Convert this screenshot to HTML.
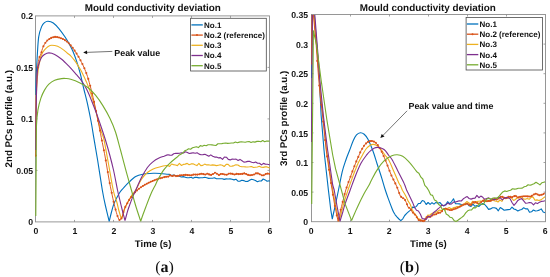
<!DOCTYPE html>
<html lang="en"><head><meta charset="utf-8"><title>Mould conductivity deviation</title>
<style>html,body{margin:0;padding:0;background:#fff}svg{display:block}</style></head>
<body>
<svg width="550" height="277" viewBox="0 0 550 277" font-family="'Liberation Sans', sans-serif" font-weight="bold" fill="#111" text-rendering="geometricPrecision">
<rect width="550" height="277" fill="#fff"/>
<rect x="35.5" y="15.9" width="234.0" height="206.0" fill="#fff" stroke="#8c8c8c" stroke-width="0.9"/><path d="M74.5 221.9v-2.0M74.5 15.9v2.0M113.5 221.9v-2.0M113.5 15.9v2.0M152.5 221.9v-2.0M152.5 15.9v2.0M191.5 221.9v-2.0M191.5 15.9v2.0M230.5 221.9v-2.0M230.5 15.9v2.0M35.5 170.4h2.0M269.5 170.4h-2.0M35.5 118.9h2.0M269.5 118.9h-2.0M35.5 67.4h2.0M269.5 67.4h-2.0" stroke="#8c8c8c" stroke-width="0.8" fill="none"/>
<clipPath id="cl"><rect x="35.0" y="15.9" width="235.0" height="206.5"/></clipPath>
<g clip-path="url(#cl)">
<path d="M35.8 95.0L36.2 75.0M36.2 75.0C36.4 71.7 36.9 61.4 37.3 55.0C37.7 48.6 38.0 41.5 38.7 36.8C39.4 32.1 40.6 29.0 41.6 26.6C42.6 24.2 43.4 23.5 44.5 22.6C45.6 21.7 46.5 21.1 48.0 21.2C49.5 21.3 51.4 21.7 53.3 23.0C55.1 24.3 57.2 26.5 59.1 28.8C61.0 31.1 63.2 34.2 64.9 36.8C66.6 39.3 68.0 41.6 69.3 44.1C70.6 46.6 71.8 48.7 73.0 51.5C74.2 54.3 75.3 57.3 76.5 60.9C77.7 64.5 79.0 68.8 80.2 73.3C81.4 77.8 82.4 82.9 83.6 88.0C84.8 93.1 86.3 98.4 87.5 103.9C88.7 109.4 89.9 115.2 91.0 121.0C92.1 126.8 92.9 132.4 94.0 138.9C95.1 145.4 96.2 151.5 97.6 160.0C99.0 168.5 101.0 182.3 102.3 190.0C103.6 197.7 104.3 200.8 105.5 206.0C106.7 211.2 108.6 218.8 109.2 221.4M109.2 221.4C109.6 219.8 110.7 214.9 111.5 212.0C112.3 209.1 112.7 207.0 113.9 203.9C115.2 200.8 117.4 196.3 119.0 193.7C120.6 191.0 121.9 189.8 123.5 188.0C125.1 186.2 126.5 184.6 128.5 182.7C130.5 180.8 133.3 178.0 135.7 176.6C138.1 175.2 140.1 174.8 143.0 174.2C145.9 173.6 150.3 173.4 153.2 173.3C156.1 173.2 158.1 173.3 160.5 173.5C162.9 173.7 166.5 174.1 167.7 174.2M167.7 174.2L169.6 174.4L171.6 175.6L173.5 175.0L175.5 175.5L177.4 175.7L179.4 176.3L181.3 177.0L183.3 176.6L185.2 177.2L187.2 177.8L189.1 177.7L191.1 177.3L193.0 178.3L195.0 177.2L196.9 177.4L198.9 177.9L200.8 177.7L202.8 177.8L204.7 177.3L206.7 177.8L208.6 178.4L210.6 178.3L212.5 178.2L214.5 177.7L216.4 178.8L218.4 178.7L220.3 178.7L222.3 178.7L224.2 179.4L226.2 178.9L228.1 179.0L230.1 178.9L232.0 179.3L234.0 179.9L235.9 179.2L237.9 181.1L239.8 181.3L241.8 180.3L243.7 180.6L245.7 181.5L247.6 181.4L249.6 180.3L251.5 179.3L253.5 179.8L255.4 180.5L257.4 181.7L259.3 181.0L261.3 181.0L263.2 179.0L265.2 179.9L267.1 181.3L269.1 180.7L269.6 181.4" fill="none" stroke="#0072BD" stroke-width="1.12" stroke-linejoin="round"/>
<path d="M35.7 140.0L36.1 105.0M36.1 105.0C36.2 101.7 36.4 90.8 36.8 85.0C37.1 79.2 37.6 74.5 38.2 70.0C38.8 65.5 39.8 60.9 40.5 58.0C41.2 55.1 41.9 54.0 42.6 52.6C43.3 51.2 43.6 50.9 44.5 49.9C45.4 48.9 47.0 47.3 48.2 46.5C49.4 45.7 50.2 45.2 51.8 45.2C53.4 45.2 55.6 45.5 57.6 46.3C59.6 47.1 61.9 48.7 63.5 49.9C65.2 51.1 66.3 52.3 67.5 53.3C68.7 54.3 69.5 54.6 70.7 55.8C71.9 57.0 73.3 58.8 74.5 60.4C75.7 62.0 76.9 63.9 78.0 65.6C79.1 67.3 80.0 68.8 81.0 70.6C82.0 72.4 82.8 74.2 83.8 76.2C84.8 78.2 85.7 80.3 86.7 82.6C87.7 84.9 88.6 87.2 89.6 90.0C90.6 92.8 91.8 96.5 92.7 99.5C93.6 102.5 94.3 104.9 95.2 108.3C96.1 111.7 97.0 116.2 98.0 120.0C99.0 123.8 100.0 127.8 101.0 131.0C102.0 134.2 102.7 134.1 103.8 138.9C104.9 143.7 106.2 151.5 107.8 160.0C109.4 168.5 111.7 183.0 113.2 190.0C114.7 197.0 115.8 198.5 116.8 202.0C117.8 205.5 118.2 208.2 119.0 211.0C119.8 213.8 121.0 217.7 121.4 219.0M121.4 219.0C121.7 218.2 122.3 216.5 123.0 214.5C123.7 212.5 124.1 209.9 125.5 206.8C126.9 203.7 129.7 198.7 131.4 195.9C133.1 193.1 134.0 192.8 135.7 190.0C137.4 187.2 139.6 182.0 141.5 179.1C143.4 176.2 145.5 174.2 147.4 172.5C149.3 170.8 151.0 169.9 153.2 168.9C155.4 167.9 158.1 167.3 160.5 166.7C162.9 166.1 166.5 165.6 167.7 165.4M167.7 165.4L169.6 166.4L171.6 164.0L173.5 164.6L175.5 165.0L177.4 165.6L179.4 163.4L181.3 165.4L183.3 164.4L185.2 164.1L187.2 163.4L189.1 164.7L191.1 163.9L193.0 163.8L195.0 164.8L196.9 165.6L198.9 163.4L200.8 165.6L202.8 165.4L204.7 164.1L206.7 164.9L208.6 164.8L210.6 165.2L212.5 164.9L214.5 165.1L216.4 165.6L218.4 165.2L220.3 164.8L222.3 165.2L224.2 166.5L226.2 164.4L228.1 164.3L230.1 166.3L232.0 166.1L234.0 165.6L235.9 164.8L237.9 165.0L239.8 166.3L241.8 166.8L243.7 166.7L245.7 166.9L247.6 167.0L249.6 166.8L251.5 166.5L253.5 167.5L255.4 167.2L257.4 167.0L259.3 166.2L261.3 167.3L263.2 167.4L265.2 166.9L267.1 166.9L269.1 167.7L269.6 168.0" fill="none" stroke="#EDB120" stroke-width="1.12" stroke-linejoin="round"/>
<path d="M35.7 155.6L36.1 110.0M36.1 110.0C36.2 105.8 36.4 92.2 36.6 85.0C36.9 77.8 37.2 71.5 37.6 67.0C38.0 62.5 38.7 60.2 39.2 58.0C39.8 55.8 40.2 55.8 40.9 54.0C41.5 52.2 42.2 49.0 43.1 47.0C44.0 45.0 44.8 43.4 46.0 41.9C47.2 40.4 48.9 39.1 50.4 38.3C51.9 37.5 53.5 36.9 55.3 36.9C57.1 36.9 59.4 37.6 61.3 38.3C63.1 39.0 64.7 39.9 66.4 41.2C68.1 42.5 69.8 44.2 71.5 46.3C73.2 48.3 75.2 51.5 76.5 53.5C77.8 55.5 78.3 56.2 79.5 58.5C80.7 60.8 82.5 64.0 83.8 67.0C85.1 70.0 86.3 72.8 87.5 76.5C88.7 80.2 89.8 84.4 91.1 89.3C92.3 94.2 93.8 100.4 95.0 106.0C96.2 111.6 97.4 117.5 98.4 122.8C99.5 128.1 100.1 131.4 101.3 137.5C102.5 143.6 104.3 152.1 105.6 159.3C106.9 166.6 107.9 173.7 109.3 181.0C110.7 188.3 112.6 197.4 113.9 203.0C115.2 208.6 116.1 211.6 117.0 214.5C117.9 217.4 118.8 219.2 119.2 220.2M119.2 220.2C119.7 219.8 121.1 219.4 121.9 217.7C122.7 215.9 123.0 212.5 124.1 209.7C125.2 206.9 126.8 203.8 128.5 201.0C130.2 198.2 132.4 195.2 134.3 193.0C136.2 190.8 138.3 189.3 140.1 187.9C141.9 186.5 143.5 185.6 145.2 184.6C146.9 183.6 148.2 182.9 150.3 182.0C152.4 181.1 155.1 179.9 157.5 179.1C159.9 178.3 163.6 177.3 164.8 177.0M164.8 177.0L166.8 176.8L168.7 176.5L170.6 175.0L172.6 176.3L174.5 175.3L176.5 176.4L178.4 175.8L180.4 175.3L182.3 175.3L184.3 174.9L186.2 174.9L188.2 175.1L190.1 175.3L192.1 175.2L194.0 174.4L196.0 174.6L197.9 174.6L199.9 174.0L201.8 173.8L203.8 174.2L205.7 174.6L207.7 173.4L209.6 174.8L211.6 174.9L213.5 173.7L215.5 172.5L217.4 174.1L219.4 175.2L221.3 173.7L223.3 174.1L225.2 174.6L227.2 174.7L229.1 173.4L231.1 173.7L233.0 174.0L235.0 174.7L236.9 173.6L238.9 174.3L240.8 173.9L242.8 173.8L244.7 173.2L246.7 174.4L248.6 175.1L250.6 175.2L252.5 175.0L254.5 174.3L256.4 173.1L258.4 173.5L260.3 174.5L262.3 175.6L264.2 175.1L266.2 173.7L268.1 173.6L269.6 174.0" fill="none" stroke="#D95319" stroke-width="0.95" stroke-linejoin="round"/>
<path d="M35.7 155.6h0M37.6 67.6h0M39.5 57.0h0M41.5 52.2h0M43.4 46.3h0M45.4 42.7h0M47.3 40.5h0M49.3 39.0h0M51.2 37.9h0M53.2 37.2h0M55.1 36.9h0M57.1 37.1h0M59.0 37.5h0M61.0 38.2h0M62.9 39.0h0M64.9 40.1h0M66.8 41.5h0M68.8 43.3h0M70.7 45.4h0M72.7 47.8h0M74.6 50.6h0M76.6 53.6h0M78.5 56.7h0M80.5 60.3h0M82.4 64.0h0M84.4 68.3h0M86.3 73.1h0M88.3 78.9h0M90.2 85.8h0M92.2 93.6h0M94.1 101.9h0M96.1 111.0h0M98.0 120.8h0M100.0 130.6h0M101.9 140.5h0M103.9 150.2h0M105.8 160.4h0M107.8 172.1h0M109.7 183.1h0M111.7 192.7h0M113.6 201.7h0M115.6 209.6h0M117.5 216.0h0M119.5 220.0h0M121.4 218.5h0M123.4 212.1h0M125.3 206.9h0M127.3 203.2h0M129.2 199.9h0M131.2 197.0h0M133.1 194.4h0M135.1 192.2h0M137.0 190.4h0M139.0 188.8h0M140.9 187.3h0M142.9 186.0h0M144.8 184.8h0M146.8 183.7h0M148.7 182.7h0M150.7 181.8h0M152.6 181.0h0M154.5 180.2h0M156.5 179.5h0M158.4 178.8h0M160.4 178.2h0M162.3 177.7h0M164.3 177.1h0M166.2 176.8h0M168.2 176.6h0M170.1 175.4h0M172.1 176.0h0M174.0 175.6h0M176.0 176.1h0M177.9 175.9h0M179.9 175.4h0M181.8 175.3h0M183.8 175.0h0M185.7 174.9h0M187.7 175.1h0M189.6 175.2h0M191.6 175.2h0M193.5 174.6h0M195.5 174.6h0M197.4 174.6h0M199.4 174.2h0M201.3 173.8h0M203.3 174.1h0M205.2 174.5h0M207.2 173.7h0M209.1 174.4h0M211.1 174.9h0M213.0 174.0h0M215.0 172.8h0M216.9 173.7h0M218.9 174.9h0M220.8 174.1h0M222.8 174.0h0M224.7 174.5h0M226.7 174.7h0M228.6 173.8h0M230.6 173.6h0M232.5 173.9h0M234.5 174.5h0M236.4 173.9h0M238.4 174.1h0M240.3 174.0h0M242.3 173.9h0M244.2 173.4h0M246.2 174.1h0M248.1 174.9h0M250.1 175.2h0M252.0 175.0h0M254.0 174.5h0M255.9 173.4h0M257.9 173.4h0M259.8 174.3h0M261.8 175.3h0M263.7 175.3h0M265.7 174.1h0M267.6 173.6h0M269.6 174.0h0" fill="none" stroke="#D95319" stroke-width="2.1" stroke-linecap="round"/>
<path d="M35.7 150.0L36.1 110.0M36.1 110.0C36.2 106.7 36.4 96.4 36.6 90.0C36.8 83.6 36.9 76.0 37.3 71.8C37.6 67.5 38.0 66.9 38.7 64.5C39.4 62.1 40.6 59.0 41.6 57.3C42.6 55.6 43.3 55.1 44.5 54.4C45.7 53.7 47.2 52.9 48.9 52.9C50.6 52.9 52.5 53.3 54.7 54.4C56.9 55.5 59.6 57.5 62.0 59.5C64.4 61.5 66.9 64.2 69.3 66.7C71.7 69.2 74.3 72.2 76.5 74.7C78.7 77.2 80.7 79.5 82.4 82.0C84.2 84.5 85.5 87.1 87.0 90.0C88.5 92.9 89.6 95.7 91.1 99.5C92.6 103.3 94.6 108.3 96.2 112.6C97.8 116.8 98.9 120.3 100.5 125.0C102.1 129.7 104.0 135.3 105.6 140.5C107.2 145.7 108.7 151.1 110.0 156.0C111.3 160.9 112.2 164.3 113.5 170.0C114.8 175.7 116.5 185.1 117.5 190.0C118.5 194.9 118.9 196.0 119.7 199.5C120.5 203.0 121.6 207.5 122.5 211.0C123.4 214.5 124.6 219.0 125.0 220.6M125.0 220.6C125.3 219.5 126.2 216.1 126.8 214.0C127.4 211.9 127.5 211.2 128.5 208.3C129.5 205.4 131.5 199.9 132.8 196.6C134.1 193.3 135.1 191.7 136.5 188.5C137.9 185.3 139.7 181.1 141.5 177.6C143.3 174.1 145.5 170.2 147.4 167.5C149.3 164.8 151.3 163.2 153.2 161.6C155.1 160.0 157.2 158.9 159.0 158.0C160.8 157.1 163.2 156.5 164.0 156.2M164.0 156.2L165.9 155.4L167.9 154.7L169.8 155.1L171.8 155.3L173.7 153.7L175.7 153.3L177.6 153.4L179.6 153.2L181.5 152.8L183.5 153.0L185.4 151.8L187.4 152.5L189.3 153.5L191.3 153.1L193.2 152.7L195.2 153.3L197.1 152.8L199.1 154.1L201.0 154.7L203.0 154.6L204.9 154.3L206.9 155.2L208.8 156.3L210.8 154.9L212.7 156.2L214.7 157.1L216.6 157.1L218.6 157.9L220.5 157.6L222.5 159.4L224.4 157.0L226.4 157.2L228.3 159.4L230.3 159.9L232.2 159.0L234.2 159.2L236.1 159.1L238.1 160.5L240.0 159.4L242.0 160.7L243.9 162.1L245.9 161.9L247.8 161.4L249.8 161.4L251.7 162.3L253.7 162.8L255.6 162.0L257.6 163.3L259.5 163.2L261.5 164.9L263.4 163.4L265.4 164.1L267.3 164.3L269.6 164.8" fill="none" stroke="#7E2F8E" stroke-width="1.12" stroke-linejoin="round"/>
<path d="M35.8 216.0L36.2 160.0M36.2 160.0C36.2 154.2 36.2 133.4 36.5 125.0C36.8 116.6 37.3 114.2 38.0 109.7C38.7 105.2 39.8 101.4 40.9 98.1C42.0 94.8 43.2 92.4 44.5 90.1C45.8 87.8 47.2 85.8 48.9 84.2C50.6 82.6 52.6 81.2 54.7 80.3C56.8 79.4 59.6 78.9 61.5 78.6C63.4 78.3 64.5 78.4 66.0 78.5C67.5 78.6 68.5 78.6 70.7 79.3C73.0 80.0 76.6 81.3 79.5 82.7C82.4 84.1 85.5 85.7 88.2 87.8C90.9 89.9 93.1 92.3 95.5 95.2C97.9 98.1 100.3 101.5 102.7 105.4C105.1 109.3 107.9 114.1 110.0 118.5C112.1 122.9 113.8 126.8 115.5 132.0C117.2 137.2 118.8 143.8 120.5 150.0C122.2 156.2 123.7 162.2 125.5 168.9C127.3 175.6 129.9 184.7 131.4 190.0C132.9 195.3 133.3 197.4 134.3 201.0C135.3 204.6 136.4 208.1 137.5 211.5C138.6 214.9 140.2 219.6 140.7 221.2M140.7 221.2C141.1 220.1 142.1 216.9 143.0 214.5C143.9 212.1 144.6 210.3 145.9 206.8C147.2 203.3 149.4 197.3 151.0 193.7C152.6 190.1 154.3 187.2 155.4 185.0C156.5 182.8 156.2 182.9 157.5 180.5C158.8 178.1 161.5 173.2 163.4 170.4C165.3 167.6 167.3 165.8 169.2 163.8C171.1 161.9 174.0 159.5 175.0 158.7M175.0 158.7L176.9 157.3L178.9 155.3L180.8 154.3L182.8 153.0L184.7 150.8L186.7 149.9L188.6 148.8L190.6 149.3L192.5 147.8L194.5 147.3L196.4 146.8L198.4 147.6L200.3 145.6L202.3 146.2L204.2 145.3L206.2 145.7L208.1 144.7L210.1 144.7L212.0 144.9L214.0 145.2L215.9 145.5L217.9 143.8L219.8 143.8L221.8 143.6L223.7 143.2L225.7 143.0L227.6 143.4L229.6 143.2L231.5 143.0L233.5 143.0L235.4 142.0L237.4 142.7L239.3 142.1L241.3 141.8L243.2 142.0L245.2 142.2L247.1 141.7L249.1 141.5L251.0 142.5L253.0 141.7L254.9 142.1L256.9 141.4L258.8 141.2L260.8 141.7L262.7 140.5L264.7 141.7L266.6 141.0L268.6 141.1L269.6 141.3" fill="none" stroke="#77AC30" stroke-width="1.12" stroke-linejoin="round"/>
</g>
<rect x="311.5" y="14.5" width="234.0" height="207.2" fill="#fff" stroke="#8c8c8c" stroke-width="0.9"/><path d="M350.5 221.7v-2.0M350.5 14.5v2.0M389.5 221.7v-2.0M389.5 14.5v2.0M428.5 221.7v-2.0M428.5 14.5v2.0M467.5 221.7v-2.0M467.5 14.5v2.0M506.5 221.7v-2.0M506.5 14.5v2.0M311.5 192.1h2.0M545.5 192.1h-2.0M311.5 162.5h2.0M545.5 162.5h-2.0M311.5 132.9h2.0M545.5 132.9h-2.0M311.5 103.3h2.0M545.5 103.3h-2.0M311.5 73.7h2.0M545.5 73.7h-2.0M311.5 44.1h2.0M545.5 44.1h-2.0" stroke="#8c8c8c" stroke-width="0.8" fill="none"/>
<clipPath id="cr"><rect x="311.0" y="14.5" width="235.0" height="207.7"/></clipPath>
<g clip-path="url(#cr)">
<path d="M311.6 78.0L312.2 14.9M314.3 14.9L317.2 50.0L319.4 80.0L321.1 115.0L324.0 150.0L324.7 157.0L328.4 190.0L330.8 210.0L332.3 219.2M332.3 219.2C332.6 218.0 333.2 214.6 333.8 212.0C334.4 209.4 334.8 207.6 335.6 203.9C336.4 200.2 337.4 195.3 338.5 190.0C339.6 184.7 341.0 176.8 342.2 171.8C343.4 166.8 344.6 163.8 345.8 160.2C347.0 156.6 348.2 153.8 349.5 150.5C350.8 147.2 352.1 143.1 353.3 140.5C354.5 137.9 355.3 136.2 356.5 134.9C357.7 133.6 359.1 132.8 360.4 132.7C361.7 132.6 362.9 133.2 364.2 134.3C365.5 135.4 366.8 137.1 368.0 139.2C369.2 141.3 370.3 144.3 371.3 146.8C372.3 149.3 373.0 151.1 374.0 154.0C375.0 156.9 376.0 160.6 377.3 164.5C378.6 168.4 380.3 173.3 381.6 177.6C382.9 181.8 384.2 186.6 385.3 190.0C386.4 193.4 386.9 194.8 388.1 198.1C389.3 201.4 391.4 206.9 392.5 209.7C393.6 212.4 394.6 213.8 395.0 214.6M395.0 214.6L396.9 216.9L398.9 219.0L400.8 220.7L402.8 218.8L404.7 215.5L406.7 213.3L408.6 211.6L410.6 210.1L412.5 207.1L414.5 207.6L416.4 206.4L418.4 203.5L420.3 203.4L422.3 200.5L424.2 201.3L426.2 204.5L428.1 202.5L430.1 204.4L432.0 202.7L434.0 204.1L435.9 202.4L437.9 203.3L439.8 202.5L441.8 204.6L443.7 206.0L445.7 204.5L447.6 201.7L449.6 203.6L451.5 201.8L453.5 198.8L455.4 203.6L457.4 203.8L459.3 203.9L461.3 204.5L463.2 204.7L465.2 204.2L467.1 203.5L469.1 205.8L471.0 206.4L473.0 204.2L474.9 206.3L476.9 205.6L478.8 206.5L480.8 204.7L482.7 203.5L484.7 204.5L486.6 206.7L488.6 209.4L490.5 208.9L492.5 207.7L494.4 207.8L496.4 208.4L498.3 210.8L500.3 207.5L502.2 208.7L504.2 210.2L506.1 209.9L508.1 209.6L510.0 209.5L512.0 207.1L513.9 209.0L515.9 209.6L517.8 211.0L519.8 210.0L521.7 209.5L523.7 207.7L525.6 208.9L527.6 208.7L529.5 212.2L531.5 211.8L533.4 210.0L535.4 211.0L537.3 210.8L539.3 210.1L541.2 208.9L543.2 212.0L545.0 212.7" fill="none" stroke="#0072BD" stroke-width="1.12" stroke-linejoin="round"/>
<path d="M311.6 55.0L312.4 14.9M313.9 14.9L316.7 45.0L318.9 72.6L320.8 96.0L322.9 115.0L326.6 150.0L327.4 155.0L331.9 185.0L335.3 204.0L339.0 221.4M339.0 221.4C339.4 220.0 340.4 215.9 341.2 213.0C342.0 210.1 342.5 207.7 343.6 203.9C344.7 200.1 346.5 194.4 348.0 190.0C349.5 185.6 350.7 182.1 352.4 177.6C354.1 173.1 356.5 166.9 358.2 163.1C359.9 159.3 361.1 157.4 362.5 155.0C363.9 152.6 365.1 150.1 366.4 148.5C367.7 146.9 369.0 145.9 370.2 145.2C371.4 144.5 372.3 144.3 373.5 144.4C374.7 144.5 376.0 144.8 377.3 145.7C378.6 146.5 379.8 147.9 381.1 149.5C382.4 151.1 383.6 153.2 384.9 155.0C386.2 156.8 387.4 157.4 388.9 160.2C390.4 163.0 392.3 167.9 394.0 171.8C395.7 175.7 398.0 181.2 399.1 183.5C400.2 185.8 400.3 185.2 400.5 185.5M400.5 185.5L402.4 190.3L404.4 193.5L406.3 197.1L408.3 201.4L410.2 204.2L412.2 209.7L414.1 213.2L416.1 215.4L418.0 218.6L420.0 219.2L421.9 220.4L423.9 220.6L425.8 218.7L427.8 215.1L429.7 215.2L431.7 213.5L433.6 212.7L435.6 212.6L437.5 211.5L439.5 210.0L441.4 210.8L443.4 209.1L445.3 210.1L447.3 208.5L449.2 207.5L451.2 209.0L453.1 207.9L455.1 207.4L457.0 206.6L459.0 206.9L460.9 205.2L462.9 205.4L464.8 203.5L466.8 201.6L468.7 202.7L470.7 204.1L472.6 201.3L474.6 203.4L476.5 201.6L478.5 201.3L480.4 201.0L482.4 200.7L484.3 199.5L486.3 200.9L488.2 201.1L490.2 201.1L492.1 199.2L494.1 200.7L496.0 201.1L498.0 202.0L499.9 200.0L501.9 201.4L503.8 198.0L505.8 198.8L507.7 198.3L509.7 196.8L511.6 198.1L513.6 200.5L515.5 199.5L517.5 197.4L519.4 198.0L521.4 196.6L523.3 198.9L525.3 199.3L527.2 198.5L529.2 199.3L531.1 197.3L533.1 197.1L535.0 200.2L537.0 199.9L538.9 200.5L540.9 199.9L542.9 198.4L545.0 196.8" fill="none" stroke="#EDB120" stroke-width="1.12" stroke-linejoin="round"/>
<path d="M311.3 63.6L312.0 14.9M313.4 14.9L316.2 45.0L318.2 72.6L320.2 96.0L322.5 115.0L326.2 150.0L326.9 155.0L331.3 185.0L334.5 204.0L338.1 221.4M338.1 221.4C338.4 220.0 339.3 215.9 340.0 213.0C340.7 210.1 341.2 207.7 342.2 203.9C343.2 200.1 344.5 194.4 345.8 190.0C347.1 185.6 348.8 181.6 350.2 177.6C351.6 173.6 353.1 169.7 354.5 166.0C355.9 162.3 357.6 158.3 358.9 155.5C360.1 152.7 360.8 151.1 362.0 149.0C363.2 146.9 364.9 144.4 366.4 143.1C367.9 141.8 369.5 141.0 371.0 140.9C372.5 140.8 374.3 141.6 375.6 142.6C376.9 143.6 377.8 145.1 378.9 146.8C380.0 148.5 381.0 150.3 382.2 152.8C383.4 155.3 384.5 157.9 386.0 161.6C387.5 165.2 389.4 170.8 391.1 174.7C392.8 178.6 394.9 182.3 396.1 185.0C397.3 187.7 398.1 190.0 398.5 191.0M398.5 191.0L400.4 196.3L402.4 197.9L404.3 198.6L406.3 202.4L408.2 207.5L410.2 208.3L412.1 211.8L414.1 213.8L416.0 215.8L418.0 219.4L419.9 220.7L421.9 220.4L423.8 222.0L425.8 218.0L427.7 216.3L429.7 217.3L431.6 216.1L433.6 214.4L435.5 214.7L437.5 213.0L439.4 212.9L441.4 212.1L443.3 209.5L445.3 208.2L447.2 209.4L449.2 209.8L451.1 210.3L453.1 209.4L455.0 208.8L457.0 208.2L458.9 206.9L460.9 206.6L462.8 204.5L464.8 204.7L466.7 203.4L468.7 204.4L470.6 205.7L472.6 202.8L474.5 201.7L476.5 202.7L478.4 203.8L480.4 202.9L482.3 201.0L484.3 200.8L486.2 201.5L488.2 200.8L490.1 201.2L492.1 200.3L494.0 198.6L496.0 199.6L497.9 199.3L499.9 197.2L501.8 196.5L503.8 197.5L505.7 198.3L507.7 197.2L509.6 196.5L511.6 197.5L513.5 196.6L515.5 195.4L517.4 197.8L519.4 196.8L521.3 196.5L523.3 196.4L525.2 196.3L527.2 196.3L529.1 196.5L531.1 196.5L533.0 194.9L535.0 193.8L536.9 193.8L538.9 195.5L540.9 194.7L542.8 194.7L545.0 192.8" fill="none" stroke="#D95319" stroke-width="0.95" stroke-linejoin="round"/>
<path d="M311.3 63.6h0M315.4 36.4h0M317.3 60.9h0M319.3 85.5h0M321.2 104.7h0M323.2 121.6h0M325.1 140.1h0M327.1 156.4h0M329.0 169.7h0M331.0 183.0h0M332.9 194.8h0M334.9 205.9h0M336.8 215.4h0M338.8 218.3h0M340.7 209.8h0M342.7 201.9h0M344.6 194.1h0M346.6 187.5h0M348.5 182.1h0M350.5 176.8h0M352.4 171.4h0M354.4 166.3h0M356.3 161.4h0M358.3 156.9h0M360.2 152.4h0M362.2 148.7h0M364.1 145.7h0M366.1 143.4h0M368.0 141.9h0M370.0 141.1h0M371.9 141.0h0M373.9 141.6h0M375.8 142.8h0M377.8 145.1h0M379.7 148.2h0M381.7 151.8h0M383.6 156.0h0M385.6 160.6h0M387.5 165.6h0M389.5 170.7h0M391.4 175.5h0M393.4 179.6h0M395.3 183.4h0M397.3 187.8h0M399.2 193.0h0M401.2 196.9h0M403.1 198.2h0M405.1 200.1h0M407.0 204.3h0M409.0 207.8h0M410.9 209.7h0M412.9 212.6h0M414.8 214.5h0M416.8 217.2h0M418.7 219.9h0M420.7 220.6h0M422.6 221.0h0M424.6 220.5h0M426.5 217.4h0M428.5 216.7h0M430.4 216.8h0M432.4 215.4h0M434.3 214.5h0M436.3 214.1h0M438.2 212.9h0M440.2 212.6h0M442.1 211.1h0M444.1 209.0h0M446.0 208.7h0M448.0 209.5h0M449.9 210.0h0M451.9 210.0h0M453.8 209.2h0M455.8 208.6h0M457.7 207.7h0M459.7 206.8h0M461.6 205.8h0M463.6 204.6h0M465.5 204.2h0M467.5 203.8h0M469.4 204.9h0M471.4 204.6h0M473.3 202.4h0M475.3 202.1h0M477.2 203.1h0M479.2 203.5h0M481.1 202.1h0M483.1 200.9h0M485.0 201.1h0M487.0 201.2h0M488.9 200.9h0M490.9 200.8h0M492.8 199.6h0M494.8 199.0h0M496.7 199.5h0M498.7 198.5h0M500.6 196.9h0M502.6 196.9h0M504.5 197.8h0M506.5 197.9h0M508.4 196.9h0M510.4 196.9h0M512.3 197.1h0M514.3 196.1h0M516.2 196.3h0M518.2 197.4h0M520.1 196.7h0M522.1 196.5h0M524.0 196.3h0M526.0 196.3h0M527.9 196.4h0M529.9 196.5h0M531.8 195.9h0M533.8 194.5h0M535.7 193.8h0M537.7 194.5h0M539.6 195.2h0M541.6 194.7h0M543.5 194.0h0" fill="none" stroke="#D95319" stroke-width="2.1" stroke-linecap="round"/>
<path d="M311.5 142.0L312.4 14.9M314.8 14.9L317.6 50.0L319.8 80.0L323.3 115.0L327.6 150.0L328.4 155.0L332.7 185.0L334.2 190.0L337.0 206.0L340.0 221.4M340.0 221.4C340.4 220.0 341.6 215.9 342.5 213.0C343.4 210.1 343.8 207.7 345.1 203.9C346.4 200.1 348.5 194.6 350.2 190.0C351.9 185.4 353.5 180.7 355.3 176.2C357.1 171.7 359.2 166.7 361.1 163.1C363.0 159.5 365.3 156.7 366.9 154.6C368.5 152.5 369.4 151.7 370.7 150.6C372.0 149.5 373.3 148.4 374.5 147.9C375.7 147.4 376.5 147.3 377.8 147.4C379.1 147.5 380.9 147.9 382.2 148.5C383.5 149.1 384.4 149.6 385.5 150.8C386.6 152.0 387.7 154.1 388.8 155.5C389.9 156.9 390.5 157.0 392.0 159.5C393.5 162.0 395.8 166.9 397.6 170.4C399.4 173.9 401.5 178.1 402.7 180.5C403.9 182.9 404.4 184.2 404.8 185.0M404.8 185.0L406.8 190.6L408.7 194.2L410.6 198.2L412.6 202.4L414.5 207.2L416.5 210.3L418.4 211.0L420.4 214.2L422.3 218.7L424.3 218.9L426.2 219.5L428.2 216.2L430.1 216.8L432.1 214.5L434.0 212.2L436.0 210.8L437.9 208.9L439.9 207.4L441.8 205.1L443.8 205.5L445.7 205.0L447.7 203.1L449.6 204.3L451.6 203.9L453.5 202.1L455.5 202.0L457.4 201.4L459.4 200.7L461.3 201.0L463.3 198.8L465.2 197.6L467.2 196.6L469.1 198.5L471.1 199.1L473.0 198.4L475.0 198.1L476.9 195.4L478.9 197.7L480.8 196.1L482.8 197.3L484.7 199.3L486.7 198.5L488.6 197.9L490.6 199.3L492.5 198.8L494.5 199.9L496.4 198.3L498.4 197.6L500.3 197.8L502.3 199.9L504.2 198.1L506.2 197.6L508.1 197.8L510.1 198.7L512.0 202.5L514.0 205.4L515.9 203.1L517.9 200.4L519.8 199.3L521.8 198.6L523.7 200.9L525.7 203.3L527.6 203.0L529.6 202.5L531.5 202.8L533.5 204.8L535.4 202.8L537.4 203.6L539.4 202.3L541.3 201.4L543.3 201.3L545.0 200.8" fill="none" stroke="#7E2F8E" stroke-width="1.12" stroke-linejoin="round"/>
<path d="M311.7 203.9L313.4 30.4M313.4 30.4L316.5 45.0L318.5 60.0L321.1 80.0L324.0 100.0L326.9 120.0L332.7 155.0L335.6 168.9L340.0 184.9L345.1 203.9L351.6 220.6M351.6 220.6C352.1 219.3 353.7 215.5 354.8 213.0C355.9 210.5 356.7 208.6 358.2 205.4C359.7 202.2 362.2 197.1 364.0 193.7C365.8 190.3 367.9 187.2 369.1 185.0C370.3 182.8 369.9 183.1 371.3 180.5C372.7 177.9 375.1 172.9 377.3 169.6C379.5 166.2 382.1 162.7 384.5 160.4C386.9 158.1 389.7 156.7 391.8 155.8C393.9 154.9 395.4 154.7 397.2 154.8C399.0 154.9 400.8 155.2 402.7 156.3C404.6 157.4 406.7 159.5 408.5 161.4C410.3 163.3 412.2 165.7 413.6 167.5C415.0 169.3 416.4 171.2 417.0 172.0M417.0 172.0L418.9 173.2L420.9 177.2L422.8 179.0L424.8 185.3L426.7 187.4L428.7 190.5L430.6 194.8L432.6 195.4L434.5 200.1L436.5 201.0L438.4 204.2L440.4 205.8L442.3 209.5L444.3 209.1L446.2 214.0L448.2 215.2L450.1 217.3L452.1 217.7L454.0 220.4L456.0 221.4L457.9 220.3L459.9 218.7L461.8 217.4L463.8 215.7L465.7 212.9L467.7 210.8L469.6 210.0L471.6 209.9L473.5 207.6L475.5 207.9L477.4 206.1L479.4 203.6L481.3 204.3L483.3 204.4L485.2 201.0L487.2 198.8L489.1 198.3L491.1 199.4L493.0 198.0L495.0 197.9L496.9 198.5L498.9 196.5L500.8 194.2L502.8 191.9L504.7 190.9L506.7 191.5L508.6 190.7L510.6 190.2L512.5 188.7L514.5 189.1L516.4 188.9L518.4 188.3L520.3 188.3L522.3 188.1L524.2 186.8L526.2 186.2L528.1 184.7L530.1 185.2L532.0 184.6L534.0 183.8L536.0 182.3L537.9 183.4L539.9 184.9L541.8 182.8L543.8 182.2L545.0 181.9" fill="none" stroke="#77AC30" stroke-width="1.12" stroke-linejoin="round"/>
</g>
<text x="35.8" y="233.8" font-size="8.7" text-anchor="middle" >0</text>
<text x="74.8" y="233.8" font-size="8.7" text-anchor="middle" >1</text>
<text x="113.8" y="233.8" font-size="8.7" text-anchor="middle" >2</text>
<text x="152.8" y="233.8" font-size="8.7" text-anchor="middle" >3</text>
<text x="191.8" y="233.8" font-size="8.7" text-anchor="middle" >4</text>
<text x="230.8" y="233.8" font-size="8.7" text-anchor="middle" >5</text>
<text x="269.8" y="233.8" font-size="8.7" text-anchor="middle" >6</text>
<text x="311.2" y="233.8" font-size="8.7" text-anchor="middle" >0</text>
<text x="350.2" y="233.8" font-size="8.7" text-anchor="middle" >1</text>
<text x="389.2" y="233.8" font-size="8.7" text-anchor="middle" >2</text>
<text x="428.2" y="233.8" font-size="8.7" text-anchor="middle" >3</text>
<text x="467.2" y="233.8" font-size="8.7" text-anchor="middle" >4</text>
<text x="506.2" y="233.8" font-size="8.7" text-anchor="middle" >5</text>
<text x="545.2" y="233.8" font-size="8.7" text-anchor="middle" >6</text>
<text x="33.1" y="225.4" font-size="8.7" text-anchor="end" >0</text>
<text x="33.1" y="173.9" font-size="8.7" text-anchor="end" >0.05</text>
<text x="33.1" y="122.4" font-size="8.7" text-anchor="end" >0.1</text>
<text x="33.1" y="70.9" font-size="8.7" text-anchor="end" >0.15</text>
<text x="33.1" y="19.4" font-size="8.7" text-anchor="end" >0.2</text>
<text x="308.1" y="225.4" font-size="8.7" text-anchor="end" >0</text>
<text x="308.1" y="195.8" font-size="8.7" text-anchor="end" >0.05</text>
<text x="308.1" y="166.2" font-size="8.7" text-anchor="end" >0.1</text>
<text x="308.1" y="136.6" font-size="8.7" text-anchor="end" >0.15</text>
<text x="308.1" y="107.0" font-size="8.7" text-anchor="end" >0.2</text>
<text x="308.1" y="77.4" font-size="8.7" text-anchor="end" >0.25</text>
<text x="308.1" y="47.8" font-size="8.7" text-anchor="end" >0.3</text>
<text x="308.1" y="18.2" font-size="8.7" text-anchor="end" >0.35</text>
<text x="152.8" y="11.4" font-size="9.9" text-anchor="middle" >Mould conductivity deviation</text>
<text x="427.8" y="10.5" font-size="9.9" text-anchor="middle" >Mould conductivity deviation</text>
<text x="153.1" y="246.6" font-size="9.6" text-anchor="middle" >Time (s)</text>
<text x="428.4" y="246.6" font-size="9.6" text-anchor="middle" >Time (s)</text>
<text transform="translate(11.8,118.75) rotate(-90)" font-size="9.75" text-anchor="middle">2nd PCs profile (a.u.)</text>
<text transform="translate(286.8,118.4) rotate(-90)" font-size="9.75" text-anchor="middle">3rd PCs profile (a.u.)</text>
<rect x="190.6" y="18.3" width="75.7" height="52.7" fill="#fff" stroke="#4a4a4a" stroke-width="0.8"/><path d="M191.4 24.9h11.4" stroke="#0072BD" stroke-width="1.3"/><text x="204.0" y="27.8" font-size="8.0" text-anchor="start" >No.1</text><path d="M191.4 35.1h11.4" stroke="#D95319" stroke-width="1.3"/><circle cx="197.0" cy="35.1" r="1" fill="#D95319"/><text x="204.0" y="38.0" font-size="8.0" text-anchor="start" >No.2 (reference)</text><path d="M191.4 45.3h11.4" stroke="#EDB120" stroke-width="1.3"/><text x="204.0" y="48.2" font-size="8.0" text-anchor="start" >No.3</text><path d="M191.4 55.5h11.4" stroke="#7E2F8E" stroke-width="1.3"/><text x="204.0" y="58.4" font-size="8.0" text-anchor="start" >No.4</text><path d="M191.4 65.7h11.4" stroke="#77AC30" stroke-width="1.3"/><text x="204.0" y="68.6" font-size="8.0" text-anchor="start" >No.5</text>
<rect x="466.1" y="17.4" width="76.3" height="52.6" fill="#fff" stroke="#4a4a4a" stroke-width="0.8"/><path d="M466.9 24.0h11.4" stroke="#0072BD" stroke-width="1.3"/><text x="479.5" y="26.9" font-size="8.0" text-anchor="start" >No.1</text><path d="M466.9 34.2h11.4" stroke="#D95319" stroke-width="1.3"/><circle cx="472.5" cy="34.2" r="1" fill="#D95319"/><text x="479.5" y="37.1" font-size="8.0" text-anchor="start" >No.2 (reference)</text><path d="M466.9 44.4h11.4" stroke="#EDB120" stroke-width="1.3"/><text x="479.5" y="47.3" font-size="8.0" text-anchor="start" >No.3</text><path d="M466.9 54.6h11.4" stroke="#7E2F8E" stroke-width="1.3"/><text x="479.5" y="57.5" font-size="8.0" text-anchor="start" >No.4</text><path d="M466.9 64.8h11.4" stroke="#77AC30" stroke-width="1.3"/><text x="479.5" y="67.7" font-size="8.0" text-anchor="start" >No.5</text>
<path d="M112.3 51.4L86.3 52.4" stroke="#2a2a2a" stroke-width="0.65"/><path d="M83.2 52.5L87.0 50.4L87.2 54.3Z" fill="#111"/>
<text x="114.3" y="55.5" font-size="8.9" text-anchor="start" >Peak value</text>
<path d="M407.1 110.8L382.6 135.8" stroke="#2a2a2a" stroke-width="0.65"/><path d="M380.4 138.0L381.7 133.9L384.5 136.6Z" fill="#111"/>
<text x="408.5" y="108.9" font-size="8.9" text-anchor="start" >Peak value and time</text>
<text x="164.6" y="271.7" font-family="'Liberation Serif', serif" font-weight="normal" font-size="16" text-anchor="middle" fill="#111">(<tspan font-weight="bold">a</tspan>)</text>
<text x="409.5" y="271.5" font-family="'Liberation Serif', serif" font-weight="normal" font-size="16" text-anchor="middle" fill="#111">(<tspan font-weight="bold">b</tspan>)</text>
</svg>
</body></html>
